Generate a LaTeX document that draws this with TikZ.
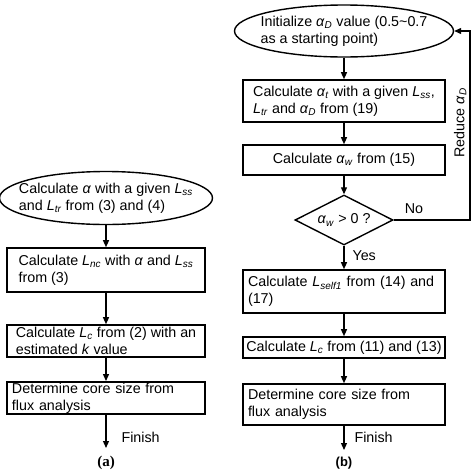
\documentclass[tikz,border=0pt]{standalone}
\usepackage{fontspec}
\setmainfont{Liberation Sans}
\newfontfamily\capfont{Liberation Serif}
\usetikzlibrary{shapes.geometric,arrows.meta}
\newcommand{\vr}[2]{\textit{#1}\textsubscript{\textit{#2}}}

\begin{document}
\begin{tikzpicture}[x=1pt,y=-1pt,
    font=\fontsize{14.3}{17}\selectfont,
    stepbox/.style={draw, line width=1.6pt, inner xsep=4pt, inner ysep=1pt, align=left},
    startell/.style={draw, ellipse, line width=1.4pt, inner xsep=-24pt, inner ysep=1pt, align=left},
    decision/.style={draw, diamond, aspect=2, line width=1.4pt, inner sep=0pt,
        minimum width=98pt, minimum height=50pt},
    flow/.style={-{Triangle[length=7pt,width=6pt]}, line width=1.2pt}]
    \useasboundingbox (0,0) rectangle (474,472);
    \def\colA{106}
    \def\colB{344}
    % (a) fixed alpha
    \node[startell, minimum width=213pt, minimum height=53pt] (calcAlpha) at (\colA,198)
        {Calculate \textit{α} with a given \vr{L}{ss}\\and \vr{L}{tr} from (3) and (4)};
    \node[stepbox, minimum width=198pt, minimum height=44pt] (calcLnc) at (\colA,270)
        {Calculate \vr{L}{nc} with \textit{α} and \vr{L}{ss}\\from (3)};
    \node[stepbox, minimum width=198pt, minimum height=32pt] (calcLcA) at (\colA,341)
        {Calculate \vr{L}{c} from (2) with an\\estimated \textit{k} value};
    \node[stepbox, minimum width=198pt, minimum height=30pt, text width=188pt] (coreA) at (\colA,398)
        {Determine core size from\\flux analysis};
    \coordinate (endA) at (\colA,448);
    \node[anchor=west] (finishA) at (118,437) {Finish};
    \node[font=\fontsize{15}{17}\selectfont\capfont\bfseries] (capA) at (\colA,463) {(a)};
    \draw[flow] (calcAlpha) -- (calcLnc);
    \draw[flow] (calcLnc) -- (calcLcA);
    \draw[flow] (calcLcA) -- (coreA);
    \draw[flow] (coreA) -- (endA);
    % (b) iterated alpha_D
    \node[startell, minimum width=219pt, minimum height=52pt] (initAlpha) at (\colB,31)
        {Initialize \vr{α}{D} value (0.5\textasciitilde0.7\\as a starting point)};
    \node[stepbox, minimum width=202pt, minimum height=42pt] (calcAlphaT) at (\colB,101)
        {Calculate \vr{α}{t} with a given \vr{L}{ss},\\\vr{L}{tr} and \vr{α}{D} from (19)};
    \node[stepbox, minimum width=202pt, minimum height=30pt] (calcAlphaW) at (\colB,160)
        {Calculate \vr{α}{w} from (15)};
    \node[decision] (check) at (\colB,220) {\vr{α}{w} > 0 ?};
    \node[stepbox, minimum width=202pt, minimum height=43pt, text width=192pt] (calcLself) at (\colB,291.5)
        {Calculate \vr{L}{self1} from (14) and\\(17)};
    \node[stepbox, inner xsep=1pt, minimum width=202pt, minimum height=21pt] (calcLcB) at (\colB,347.5)
        {Calculate \vr{L}{c} from (11) and (13)};
    \node[stepbox, minimum width=202pt, minimum height=41pt, text width=192pt] (coreB) at (\colB,404.5)
        {Determine core size from\\flux analysis};
    \coordinate (endB) at (\colB,450);
    \coordinate (back) at (470,123);
    \node[rotate=90, anchor=south] (reduce) at (back) {Reduce \vr{α}{D}};
    \node (no) at (414,209) {No};
    \node[anchor=west] (yes) at (349,256) {Yes};
    \node[anchor=west] (finishB) at (351,437) {Finish};
    \node[font=\fontsize{13}{15}\selectfont\bfseries] (capB) at (\colB,463) {(b)};
    \draw[flow] (initAlpha) -- (calcAlphaT);
    \draw[flow] (calcAlphaT) -- (calcAlphaW);
    \draw[flow] (calcAlphaW) -- (check);
    \draw[flow] (check) -- (calcLself);
    \draw[flow] (calcLself) -- (calcLcB);
    \draw[flow] (calcLcB) -- (coreB);
    \draw[flow] (coreB) -- (endB);
    \draw[flow] (check.east) -| (back) |- (initAlpha.east);
\end{tikzpicture}
\end{document}
